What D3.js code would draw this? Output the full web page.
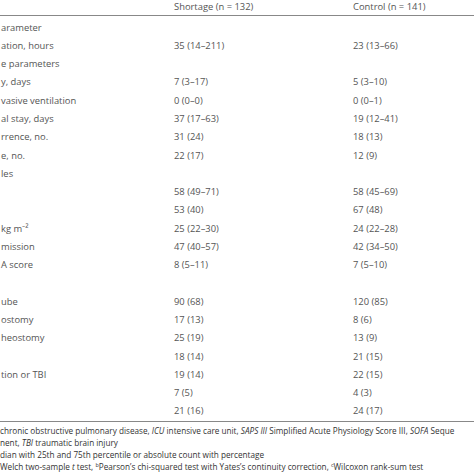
<!DOCTYPE html>
<html><head><meta charset="utf-8">
<script src="https://cdn.jsdelivr.net/npm/d3@7"></script>
<style>body{margin:0;background:#fff}</style></head>
<body><svg id="c" width="474" height="474"></svg>
<script>
const headers = ["Shortage (n = 132)", "Control (n = 141)"];
const labels = ["arameter","ation, hours","e parameters","y, days","vasive ventilation","al stay, days","rrence, no.","e, no.","les","","","kg m⁻²","mission","A score","","ube","ostomy","heostomy","","tion or TBI","",""];
const shortage = ["","35 (14–211)","","7 (3–17)","0 (0–0)","37 (17–63)","31 (24)","22 (17)","","58 (49–71)","53 (40)","25 (22–30)","47 (40–57)","8 (5–11)","","90 (68)","17 (13)","25 (19)","18 (14)","19 (14)","7 (5)","21 (16)"];
const control = ["","23 (13–66)","","5 (3–10)","0 (0–1)","19 (12–41)","18 (13)","12 (9)","","58 (45–69)","67 (48)","24 (22–28)","42 (34–50)","7 (5–10)","","120 (85)","8 (6)","13 (9)","21 (15)","22 (15)","4 (3)","24 (17)"];
const footnotes = [
 [["chronic obstructive pulmonary disease, ",""],["ICU","i"],[" intensive care unit, ",""],["SAPS III","i"],[" Simplified Acute Physiology Score III, ",""],["SOFA","i"],[" Seque",""]],
 [["nent, ",""],["TBI","i"],[" traumatic brain injury",""]],
 [["dian with 25th and 75th percentile or absolute count with percentage",""]],
 [["Welch two-sample ",""],["t","i"],[" test, ",""],["b","s"],["Pearson’s chi-squared test with Yates’s continuity correction, ",""],["c","s"],["Wilcoxon rank-sum test",""]]
];
const svg = d3.select("#c");
const font = "'Open Sans', sans-serif";
const y = d3.scaleBand().domain(d3.range(labels.length)).range([18, 420]);
const colX = {label:1, shortage:174, control:353};
const g = svg.append("g").attr("font-family",font).attr("font-size",9.4).attr("fill","#555");
g.selectAll("text.h").data(headers).join("text").attr("x",(d,i)=>i?colX.control:colX.shortage).attr("y",10).text(d=>d);
svg.append("line").attr("x1",0).attr("x2",474).attr("y1",15.5).attr("y2",15.5).attr("stroke","#888").attr("stroke-width",1);
svg.append("line").attr("x1",0).attr("x2",474).attr("y1",421.5).attr("y2",421.5).attr("stroke","#888").attr("stroke-width",1);
const cols = [["label",labels],["shortage",shortage],["control",control]];
cols.forEach(([k,arr])=>{
  g.selectAll("text."+k).data(arr).join("text").attr("class",k)
   .attr("x",colX[k]).attr("y",(d,i)=>y(i)+y.bandwidth()/2+3.5).text(d=>d);
});
const fg = svg.append("g").attr("font-family",font).attr("font-size",8.2).attr("fill","#333");
footnotes.forEach((parts,i)=>{
  const t = fg.append("text").attr("x",0).attr("y",434+i*12);
  parts.forEach(([s,st])=>{
    const ts=t.append("tspan").text(s);
    if(st==="i") ts.attr("font-style","italic");
    if(st==="s") ts.attr("font-size",5.5).attr("dy",-3);
    if(st==="") { if(ts.node().previousSibling && ts.node().previousSibling.getAttribute("dy")) ts.attr("dy",3); }
  });
});
</script></body></html>
